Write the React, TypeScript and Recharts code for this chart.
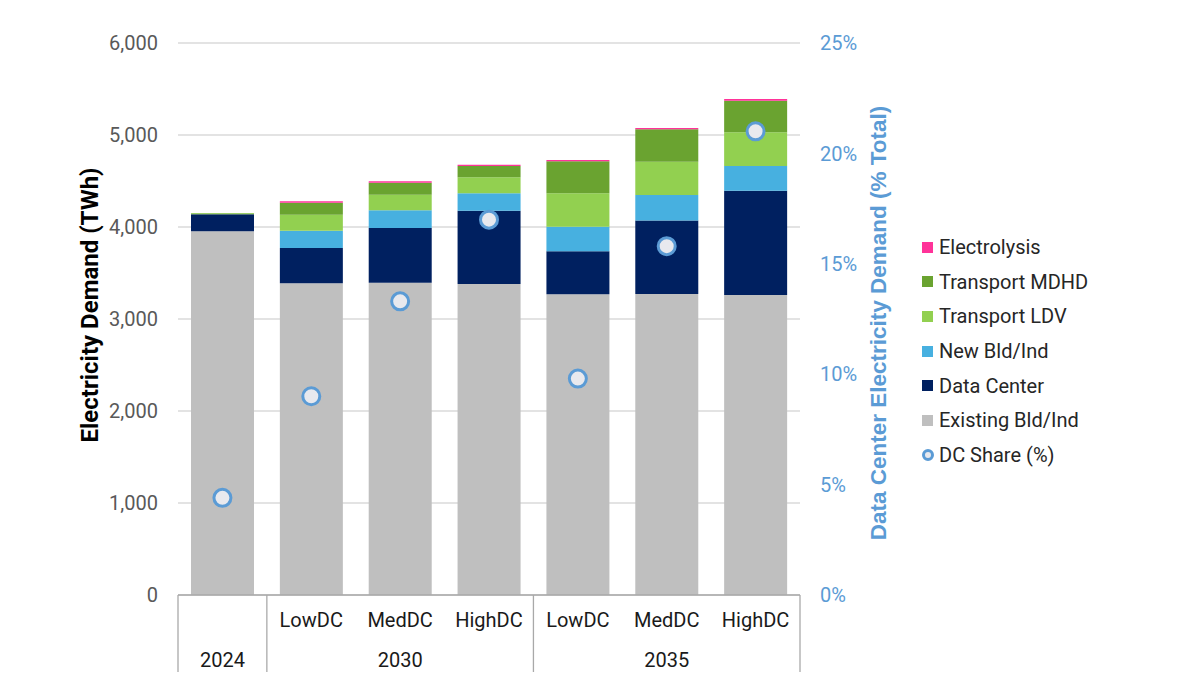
import React from "react";
import {
  ComposedChart,
  Bar,
  Line,
  XAxis,
  YAxis,
  CartesianGrid,
} from "recharts";

const scenarios = ["", "LowDC", "MedDC", "HighDC", "LowDC", "MedDC", "HighDC"];
const years = ["2024", "2030", "2030", "2030", "2035", "2035", "2035"];

// TWh by end use
const existingBldInd = [3955, 3388, 3395, 3380, 3268, 3272, 3261];
const dataCenter = [183, 384, 594, 797, 468, 800, 1134];
const newBldInd = [0, 188, 192, 189, 267, 276, 268];
const transportLdv = [11, 174, 170, 174, 363, 362, 366];
const transportMdhd = [3, 130, 131, 123, 348, 352, 344];
const electrolysis = [0, 15, 14, 14, 14, 14, 18];

// data center share of total demand, %
const dcShare = [4.4, 9.0, 13.3, 17.0, 9.8, 15.8, 21.0];

const leftTicks = [0, 1000, 2000, 3000, 4000, 5000, 6000];
const rightTicks = [0, 5, 10, 15, 20, 25];

const stackSeries = [
  { key: "existing", name: "Existing Bld/Ind", color: "#BFBFBF", values: existingBldInd },
  { key: "dataCenter", name: "Data Center", color: "#002060", values: dataCenter },
  { key: "newBld", name: "New Bld/Ind", color: "#47B0E0", values: newBldInd },
  { key: "ldv", name: "Transport LDV", color: "#92D050", values: transportLdv },
  { key: "mdhd", name: "Transport MDHD", color: "#6AA330", values: transportMdhd },
  { key: "electrolysis", name: "Electrolysis", color: "#FF3399", values: electrolysis },
];

const data = scenarios.map((scenario, i) => {
  const row: Record<string, string | number> = { scenario, year: years[i], dcShare: dcShare[i] };
  stackSeries.forEach((s) => {
    row[s.key] = s.values[i];
  });
  return row;
});

const WIDTH = 1179;
const HEIGHT = 688;
const LEFT_AXIS_W = 178;
const RIGHT_AXIS_W = 379;
const TOP = 43;
const X_AXIS_H = 93;
const FONT = "Roboto, 'Noto Sans', sans-serif";
const TITLE_FONT_RIGHT = "'Liberation Sans', Arial, sans-serif";
const SHARE_BLUE = "#5B9BD5";
const BOX_GRAY = "#A9A9A9";

const band = (WIDTH - LEFT_AXIS_W - RIGHT_AXIS_W) / scenarios.length;

// two-level category axis: scenario on top, year below, with group dividers
const CategoryTick = (props: any) => {
  const { x, y, index } = props;
  const half = band / 2;
  const isStart = index === 0 || years[index] !== years[index - 1];
  const isLast = index === years.length - 1;
  const groupIdx = years.map((yr, i) => (yr === years[index] ? i : -1)).filter((i) => i >= 0);
  const mid = groupIdx[Math.floor(groupIdx.length / 2)];
  return (
    <g>
      {isStart && <line x1={x - half} x2={x - half} y1={y} y2={y + 77} stroke={BOX_GRAY} strokeWidth={1.3} />}
      {isLast && <line x1={x + half} x2={x + half} y1={y} y2={y + 77} stroke={BOX_GRAY} strokeWidth={1.3} />}
      <text x={x} y={y + 32} textAnchor="middle" fontSize={20} fill="#1a1a1a" fontFamily={FONT}>
        {scenarios[index]}
      </text>
      {index === mid && (
        <text x={x} y={y + 72} textAnchor="middle" fontSize={20} fill="#1a1a1a" fontFamily={FONT}>
          {years[index]}
        </text>
      )}
    </g>
  );
};

const legendItems = [
  ...stackSeries.slice().reverse().map((s) => ({ name: s.name, color: s.color, circle: false })),
  { name: "DC Share (%)", color: SHARE_BLUE, circle: true },
];

const ChartLegend = () => (
  <div style={{ position: "absolute", left: 922, top: 230, fontFamily: FONT, fontSize: 20, color: "#262626" }}>
    {legendItems.map((item) => (
      <div key={item.name} style={{ display: "flex", alignItems: "center", height: 34.6 }}>
        {item.circle ? (
          <span
            style={{
              width: 6,
              height: 6,
              borderRadius: "50%",
              border: `3px solid ${item.color}`,
              background: "#E8E9EE",
              marginRight: 5,
            }}
          />
        ) : (
          <span style={{ width: 11, height: 11, background: item.color, marginRight: 6 }} />
        )}
        <span>{item.name}</span>
      </div>
    ))}
  </div>
);

export default function App() {
  return (
    <div style={{ position: "absolute", left: 0, top: 0, width: WIDTH, height: HEIGHT, background: "#fff" }}>
      <ComposedChart
        width={WIDTH}
        height={HEIGHT}
        data={data}
        margin={{ top: TOP, right: 0, bottom: 0, left: 0 }}
        barSize={63}
      >
        <CartesianGrid yAxisId="left" vertical={false} stroke="#DADADA" strokeWidth={1.5} />
        <XAxis
          dataKey="scenario"
          height={X_AXIS_H}
          axisLine={{ stroke: BOX_GRAY, strokeWidth: 1.3 }}
          tickLine={false}
          tickSize={0}
          tickMargin={0}
          interval={0}
          tick={<CategoryTick />}
        />
        <YAxis
          yAxisId="left"
          width={LEFT_AXIS_W}
          domain={[0, 6000]}
          ticks={leftTicks}
          axisLine={false}
          tickLine={false}
          tickMargin={14}
          tick={{ fontSize: 20, fill: "#595959", fontFamily: FONT }}
          tickFormatter={(v: number) => v.toLocaleString("en-US")}
          label={({ viewBox }: any) => {
            const cx = viewBox.x + 90;
            const cy = viewBox.y + viewBox.height / 2 - 14;
            return (
              <text
                x={cx}
                y={cy}
                transform={`rotate(-90 ${cx} ${cy})`}
                textAnchor="middle"
                dominantBaseline="central"
                fontSize={24}
                fontWeight={700}
                fill="#000"
                fontFamily={FONT}
              >
                Electricity Demand (TWh)
              </text>
            );
          }}
        />
        <YAxis
          yAxisId="right"
          orientation="right"
          width={RIGHT_AXIS_W}
          domain={[0, 25]}
          ticks={rightTicks}
          axisLine={false}
          tickLine={false}
          tickMargin={14}
          tick={{ fontSize: 20, fill: SHARE_BLUE, fontFamily: FONT }}
          tickFormatter={(v: number) => `${v}%`}
          label={({ viewBox }: any) => {
            const cx = viewBox.x + 78;
            const cy = viewBox.y + viewBox.height / 2 + 4;
            return (
              <text
                x={cx}
                y={cy}
                transform={`rotate(-90 ${cx} ${cy})`}
                textAnchor="middle"
                dominantBaseline="central"
                fontSize={22.5}
                fontWeight={700}
                fill={SHARE_BLUE}
                fontFamily={TITLE_FONT_RIGHT}
              >
                Data Center Electricity Demand (% Total)
              </text>
            );
          }}
        />
        {stackSeries.map((s) => (
          <Bar
            key={s.key}
            yAxisId="left"
            dataKey={s.key}
            name={s.name}
            stackId="demand"
            fill={s.color}
            isAnimationActive={false}
          />
        ))}
        <Line
          yAxisId="right"
          dataKey="dcShare"
          name="DC Share (%)"
          stroke="none"
          dot={{ r: 8.5, fill: "#E8E9EE", stroke: SHARE_BLUE, strokeWidth: 3 }}
          activeDot={false}
          isAnimationActive={false}
        />
      </ComposedChart>
      <ChartLegend />
    </div>
  );
}
